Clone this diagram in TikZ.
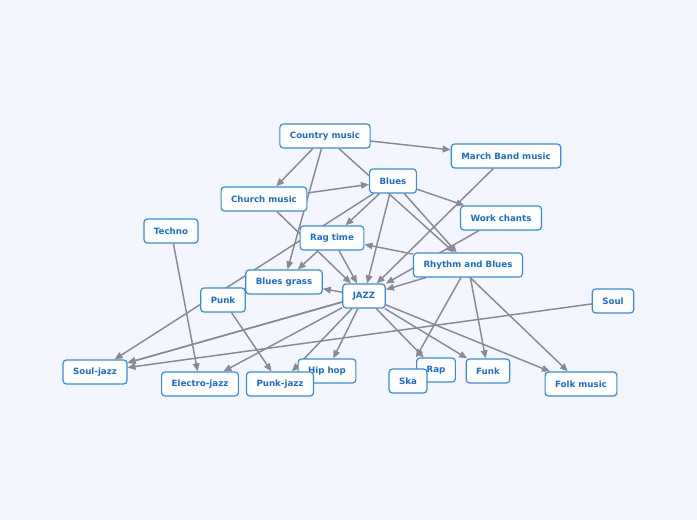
\documentclass[tikz,border=0pt]{standalone}
\usepackage{fontspec}
\setmainfont{DejaVu Sans}
\usetikzlibrary{arrows.meta}

\definecolor{pagebg}{RGB}{243,246,255}
\definecolor{boxline}{RGB}{52,139,230}
\definecolor{boxtext}{RGB}{24,110,214}
\definecolor{linkgray}{RGB}{138,138,146}

\pgfdeclarelayer{edges}
\pgfsetlayers{edges,main}

\tikzset{every picture/.style={line width=0.75pt}}
\tikzset{
  genre/.style={draw=boxline, fill=white, line width=0.9pt, rounded corners=2.5pt,
    text=boxtext, font=\fontsize{6.5}{7}\selectfont\bfseries,
    inner xsep=7.5pt, inner ysep=0pt, minimum height=18pt},
  link/.style={draw=linkgray, line width=1.1pt, -{Triangle[length=6pt,width=5pt]}}
}

\begin{document}
\begin{tikzpicture}[x=0.75pt,y=0.75pt,yscale=-1,xscale=1]
%set diagram left start at 0, and has height of 520
\useasboundingbox (0,0) rectangle (697,520);

% Text Node
\node [genre] (country) at (325,136) {Country music};
% Text Node
\node [genre] (marchband) at (506,156) {March Band music};
% Text Node
\node [genre] (blues) at (393,181) {Blues};
% Text Node
\node [genre] (church) at (264,199) {Church music};
% Text Node
\node [genre] (workchants) at (501,218) {Work chants};
% Text Node
\node [genre] (techno) at (171,231) {Techno};
% Text Node
\node [genre] (ragtime) at (332,238) {Rag time};
% Text Node
\node [genre] (rnb) at (468,265) {Rhythm and Blues};
% Text Node
\node [genre] (bluesgrass) at (284,282) {Blues grass};
% Text Node
\node [genre] (jazz) at (364,296) {JAZZ};
% Text Node
\node [genre] (punk) at (223,300) {Punk};
% Text Node
\node [genre] (soul) at (613,301) {Soul};
% Text Node
\node [genre] (souljazz) at (95,372) {Soul-jazz};
% Text Node
\node [genre] (hiphop) at (327,371) {Hip hop};
% Text Node
\node [genre] (rap) at (436,370) {Rap};
% Text Node
\node [genre] (funk) at (488,371) {Funk};
% Text Node
\node [genre] (ska) at (408,381) {Ska};
% Text Node
\node [genre] (electrojazz) at (200,384) {Electro-jazz};
% Text Node
\node [genre] (punkjazz) at (280,384) {Punk-jazz};
% Text Node
\node [genre] (folk) at (581,384) {Folk music};

\begin{pgfonlayer}{edges}
%Shape: Rectangle
\fill [pagebg] (0,0) rectangle (697,520);
%Straight Lines
\draw [link] (country) -- (marchband);
\draw [link] (country) -- (church);
\draw [link] (country) -- (bluesgrass);
\draw [link] (country) -- (rnb);
\draw [link] (church) -- (blues);
\draw [link] (church) -- (jazz);
\draw [link] (blues) -- (ragtime);
\draw [link] (blues) -- (souljazz);
\draw [link] (blues) -- (jazz);
\draw [link] (blues) -- (rnb);
\draw [link] (blues) -- (workchants);
\draw [link] (marchband) -- (jazz);
\draw [link] (workchants) -- (jazz);
\draw [link] (rnb) -- (jazz);
\draw [link] (rnb) -- (ragtime);
\draw [link] (ragtime) -- (bluesgrass);
\draw [link] (ragtime) -- (jazz);
\draw [link] (jazz) -- (bluesgrass);
\draw [link] (jazz) -- (souljazz);
\draw [link] (jazz.195) -- (souljazz);
\draw [link] (jazz) -- (electrojazz);
\draw [link] (jazz) -- (punkjazz);
\draw [link] (jazz) -- (hiphop);
\draw [link] (jazz) -- (rap);
\draw [link] (jazz) -- (funk);
\draw [link] (jazz) -- (folk);
\draw [link] (rnb) -- (rap.north west);
\draw [link] (rnb) -- (funk);
\draw [link] (rnb.-80) -- (folk);
\draw [link] (soul) -- (souljazz);
\draw [link] (techno) -- (electrojazz);
\draw [link] (punk) -- (punkjazz);
\end{pgfonlayer}

\end{tikzpicture}
\end{document}
